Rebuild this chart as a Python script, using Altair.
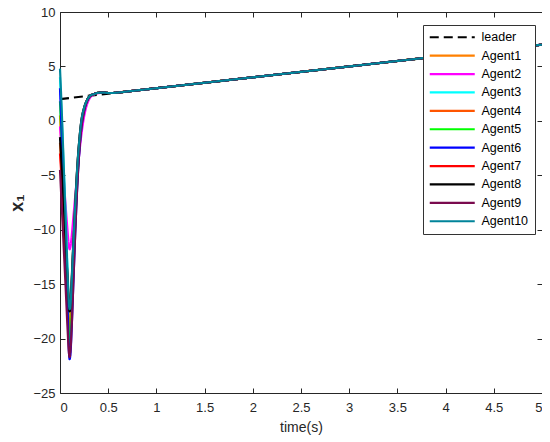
import altair as alt
import pandas as pd

series_names = ["leader"] + [f"Agent{i}" for i in range(1, 11)]
series_colors = ["#000000", "#FF8000", "#FF00FF", "#00FFFF", "#FF5500", "#00FF00",
                 "#0000FF", "#FF0000", "#000000", "#7A0A4E", "#00849A"]

# time grid of the transient phase and of the tracking phase
t_trans = [0, 0.02, 0.04, 0.06, 0.08, 0.09, 0.10, 0.11, 0.12, 0.14, 0.16, 0.18,
           0.20, 0.22, 0.25, 0.28, 0.31, 0.35, 0.40, 0.45, 0.50, 0.55]
t_tail = [0.6, 0.7, 0.8, 1.0, 1.5, 2.0, 2.5, 3.0, 3.5, 4.0, 4.5, 5.0]
tail_vals = [2.6, 2.7, 2.8, 3.0, 3.5, 4.0, 4.5, 5.0, 5.5, 6.0, 6.5, 7.0]

leader_t = [0, 5]
leader_x = [2, 7]

agent1 = [0.5, -3.5, -7.5, -11.5, -16.0, -18.8, -20.0, -19.4, -17.6, -13.2, -8.9, -5.2,
          -2.4, -0.5, 1.0, 1.85, 2.25, 2.45, 2.58, 2.6, 2.56, 2.56]
agent2 = [-0.5, -3.0, -5.5, -8.0, -10.3, -11.3, -11.8, -11.5, -10.7, -8.7, -6.7, -4.8,
          -3.0, -1.4, 0.4, 1.5, 2.1, 2.4, 2.55, 2.6, 2.56, 2.56]
agent3 = [4.0, -0.2, -4.6, -9.2, -14.0, -16.2, -17.0, -16.5, -14.8, -10.9, -7.3, -4.1,
          -1.8, -0.1, 1.2, 1.9, 2.3, 2.45, 2.58, 2.6, 2.56, 2.56]
agent4 = [-2.0, -5.5, -9.0, -12.5, -16.2, -18.2, -19.0, -18.5, -16.8, -12.5, -8.4, -4.9,
          -2.2, -0.4, 1.05, 1.85, 2.25, 2.45, 2.58, 2.6, 2.56, 2.56]
agent5 = [1.8, -2.6, -7.0, -11.6, -16.4, -19.3, -20.5, -19.9, -18.1, -13.6, -9.1, -5.4,
          -2.6, -0.6, 0.95, 1.8, 2.25, 2.45, 2.58, 2.6, 2.56, 2.56]
agent6 = [3.0, -1.8, -6.8, -12.0, -17.5, -20.7, -21.9, -21.2, -19.3, -14.6, -9.9, -5.9,
          -2.9, -0.8, 0.9, 1.8, 2.25, 2.45, 2.58, 2.6, 2.56, 2.56]
agent7 = [-3.0, -5.8, -8.7, -11.7, -14.8, -16.4, -17.0, -16.5, -14.8, -10.9, -7.3, -4.1,
          -1.8, -0.1, 1.2, 1.9, 2.3, 2.45, 2.58, 2.6, 2.56, 2.56]
agent8 = [-1.5, -4.6, -7.9, -11.3, -14.9, -16.8, -17.5, -17.0, -15.2, -11.2, -7.5, -4.3,
          -1.9, -0.2, 1.15, 1.9, 2.3, 2.45, 2.58, 2.6, 2.56, 2.56]
agent9 = [-4.5, -8.2, -11.9, -15.6, -19.4, -21.0, -21.7, -21.0, -19.2, -14.5, -9.8, -5.8,
          -2.8, -0.8, 0.9, 1.8, 2.25, 2.45, 2.58, 2.6, 2.56, 2.56]
agent10 = [4.8, 0.5, -4.5, -9.5, -14.5, -16.5, -17.3, -16.8, -15.0, -11.0, -7.4, -4.2,
           -1.8, -0.1, 1.2, 1.9, 2.3, 2.45, 2.58, 2.6, 2.56, 2.56]
agents = [agent1, agent2, agent3, agent4, agent5, agent6, agent7, agent8, agent9, agent10]

x_ticks = [0, 0.5, 1, 1.5, 2, 2.5, 3, 3.5, 4, 4.5, 5]
y_ticks = [-25, -20, -15, -10, -5, 0, 5, 10]

rows = []
for t, v in zip(leader_t, leader_x):
    rows.append({"t": t, "x1": v, "series": "leader"})
for i, vals in enumerate(agents):
    name = f"Agent{i + 1}"
    for t, v in zip(t_trans + t_tail, vals + tail_vals):
        rows.append({"t": t, "x1": v, "series": name})
df = pd.DataFrame(rows)

FONT = "Liberation Sans"
TXT = "#262626"
xscale = alt.Scale(domain=[0, 5], nice=False, zero=False)
yscale = alt.Scale(domain=[-25, 10], nice=False, zero=False)
cscale = alt.Scale(domain=series_names, range=series_colors)
dscale = alt.Scale(domain=series_names, range=[[9, 5]] + [[1, 0]] * 10)

legend = alt.Legend(
    orient="none", legendX=363, legendY=13, title=None,
    symbolType="M-5,0H5", symbolSize=81, symbolStrokeWidth=2.2,
    symbolOffset=17, labelOffset=23,
    labelFont=FONT, labelFontSize=12.5, labelColor="#000000",
    fillColor="white", strokeColor="#333333", padding=6, rowPadding=5.4,
)

def axis_kw(orient, labels=True, title=None, **kw):
    d = dict(orient=orient, domain=False, grid=False, tickSize=5, offset=-5,
             tickColor=TXT, tickWidth=1, labelFont=FONT, labelFontSize=13,
             labelColor=TXT, labels=labels, title=title)
    d.update(kw)
    return alt.Axis(**d)

base = alt.Chart(df)

layers = []
leader_layer = base.transform_filter(alt.datum.series == "leader").mark_line(strokeWidth=2.2).encode(
    x=alt.X("t:Q", scale=xscale,
            axis=axis_kw("bottom", values=x_ticks, format="~g", labelPadding=8,
                         title="time(s)", titleFont=FONT, titleFontSize=14,
                         titleFontWeight="normal", titleColor=TXT, titlePadding=6)),
    y=alt.Y("x1:Q", scale=yscale,
            axis=axis_kw("left", values=y_ticks, labelPadding=5,
                         title="x₁", titleFont=FONT, titleFontSize=18,
                         titleFontWeight="bold", titleColor=TXT, titlePadding=6)),
    color=alt.Color("series:N", scale=cscale, legend=legend),
    strokeDash=alt.StrokeDash("series:N", scale=dscale, legend=legend),
)
layers.append(leader_layer)

for i in range(10):
    name = f"Agent{i + 1}"
    layers.append(
        base.transform_filter(alt.datum.series == name).mark_line(
            strokeWidth=2.2, interpolate="monotone"
        ).encode(
            x=alt.X("t:Q", scale=xscale, axis=None),
            y=alt.Y("x1:Q", scale=yscale, axis=None),
            color=alt.Color("series:N", scale=cscale, legend=legend),
            strokeDash=alt.StrokeDash("series:N", scale=dscale, legend=legend),
        )
    )

frame_layer = base.transform_filter(alt.datum.series == "leader").mark_line(opacity=0).encode(
    x=alt.X("t:Q", scale=xscale, axis=axis_kw("top", labels=False, values=x_ticks)),
    y=alt.Y("x1:Q", scale=yscale, axis=axis_kw("right", labels=False, values=y_ticks)),
)
layers.append(frame_layer)

chart = alt.layer(*layers).resolve_axis(x="independent", y="independent").properties(
    width=482, height=381,
    autosize=alt.AutoSizeParams(type="none"),
    padding={"left": 52, "top": 4, "right": 0, "bottom": 42},
    background="white",
).configure_view(stroke=TXT, strokeWidth=1)

chart.save("out.html", embed_options={"renderer": "svg", "actions": False})
